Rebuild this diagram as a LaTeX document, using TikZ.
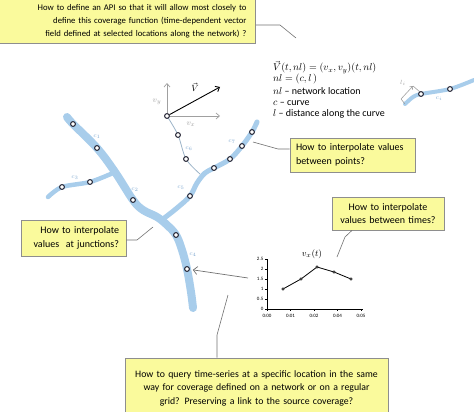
\documentclass[tikz,border=0pt]{standalone}
\usepackage{fontspec}
\setmainfont{Carlito}
\usetikzlibrary{arrows.meta}
\definecolor{boxfill}{HTML}{FAFA9C}
\definecolor{boxline}{HTML}{8E8E8E}
\definecolor{netblue}{HTML}{A8CDEB}
\definecolor{thinnet}{HTML}{9DB4C8}
\definecolor{leadgray}{HTML}{707070}
\definecolor{axgray}{HTML}{A0A0A0}
\definecolor{lblblue}{HTML}{7FA8D0}
\definecolor{mkcol}{HTML}{1A1A2A}
\tikzset{
  qbox/.style={draw=boxline, fill=boxfill, line width=0.8pt, inner sep=0pt,
    font=\fontsize{10}{13.5}\selectfont},
  leader/.style={draw=leadgray, line width=0.6pt},
  netpt/.style={circle, draw=mkcol, fill=white, line width=1pt, inner sep=0pt, minimum size=4.8pt},
  chpt/.style={circle, draw=black, fill=white, line width=0.5pt, inner sep=0pt, minimum size=2.6pt},
  clab/.style={text=lblblue, inner sep=0pt, font=\fontsize{6}{7}\selectfont},
  netline/.style={draw=netblue, line cap=round, line join=round},
  tlab/.style={inner sep=0pt, font=\fontsize{5}{6}\selectfont},
  legend/.style={anchor=north west, inner sep=0pt, align=left, font=\fontsize{10}{11}\selectfont},
  barb/.style={-{Straight Barb[length=3.5pt,width=6pt]}}
}
\begin{document}
\begin{tikzpicture}[x=1pt,y=-1pt]
\useasboundingbox (0,0) rectangle (474,412);

% ---------- network ----------
\draw[netline, line width=8pt] plot[smooth, tension=0.6] coordinates
  {(67,117) (73,124) (97,148) (115,172) (133,200) (143,210) (157,217) (167,225) (176,235) (182,250) (187,269) (191,292) (193,308)};
\draw[netline, line width=4.5pt] plot[smooth] coordinates
  {(113,173) (90,182) (62,187) (48,197)};
\draw[netline, line width=5pt] plot[smooth, tension=0.6] coordinates
  {(163,219) (177,208) (190,196) (197,183) (205,173) (214,168) (230,159) (242,146) (252,132) (257,122)};
\draw[draw=thinnet, line width=0.8pt] plot[smooth] coordinates
  {(167,116) (178,135) (186,159) (200,174)};
\draw[netline, line width=4pt] plot[smooth] coordinates
  {(405,104) (413,97) (421,94) (450,89) (474,80)};

% curve labels
\node[clab] (c1) at (97,137) {$c_1$};
\node[clab] (c3) at (75,178) {$c_3$};
\node[clab] (c2) at (135,190) {$c_2$};
\node[clab] (c5) at (181,188) {$c_5$};
\node[clab] (c6) at (189,149) {$c_6$};
\node[clab] (c7) at (232,142) {$c_7$};
\node[clab] (c4) at (193,255) {$c_4$};
\node[clab] (ci) at (439,99) {$c_i$};
\node[clab, text=axgray] (li) at (403,83) {$l_i$};

% l-distance bracket
\coordinate (la) at (405,104);
\coordinate (lb) at (401,99);
\coordinate (lc) at (413,86);
\coordinate (ld) at (420,92);
\draw[axgray, line width=0.6pt] (la) -- (lb);
\draw[axgray, line width=0.6pt, -{Straight Barb[length=2.5pt,width=4pt]}] (lb) -- (lc);
\draw[axgray, line width=0.6pt] (lc) -- (ld);

% network points
\node[netpt] (vo) at (167,116) {};
\node[netpt] (p1) at (73,124) {};
\node[netpt] (p2) at (97,148) {};
\node[netpt] (p3) at (133,200) {};
\node[netpt] (p4) at (176,235) {};
\node[netpt] (p5) at (187,269) {};
\node[netpt] (p6) at (90,182) {};
\node[netpt] (p7) at (62,187) {};
\node[netpt] (p8) at (190,196) {};
\node[netpt] (p9) at (214,168) {};
\node[netpt] (p10) at (230,159) {};
\node[netpt] (p11) at (242,146) {};
\node[netpt] (p12) at (252,132) {};
\node[netpt] (p13) at (178,135) {};
\node[netpt] (p14) at (186,159) {};
\node[netpt] (p15) at (421,94) {};
\node[netpt] (p16) at (450,89) {};

% vector
\coordinate (vyend) at (167,83);
\coordinate (vxend) at (220,116);
\coordinate (vend) at (220,87);
\draw[axgray, line width=0.7pt, barb] (vo) -- (vyend);
\draw[axgray, line width=0.7pt, barb] (vo) -- (vxend);
\draw[black, line width=0.9pt, barb] (vo) -- (vend);
\node[text=axgray, inner sep=0pt, font=\fontsize{8.5}{9}\selectfont] (vy) at (157,102) {$v_y$};
\node[text=axgray, inner sep=0pt, font=\fontsize{8.5}{9}\selectfont] (vx) at (191,124) {$v_x$};
\node[inner sep=0pt, font=\fontsize{9}{9}\selectfont] (vv) at (195,87) {$\vec{V}$};

% formula and legend
\node[legend] (form) at (273,61) {$\vec{V}(t,nl)=(v_x,v_y)(t,nl)$\\ $nl=(c,l\,)$};
\node[legend] (leg) at (273,87) {$nl$ -- network location\\ $c$ -- curve\\ $l$ -- distance along the curve};

% ---------- chart ----------
\draw[black, line width=0.5pt] (267,259) -- (267,309) -- (363,309);
\foreach \yy/\lab in {259/2.5, 269/2, 279/1.5, 289/1, 299/0.5, 309/0} {
  \draw[black, line width=0.4pt] (265,\yy) -- (267,\yy);
  \node[tlab, anchor=east] at (263.5,\yy) {\lab};
}
\foreach \xx/\lab in {267/0:00, 290.5/0:01, 314/0:02, 337.5/0:04, 361/0:05} {
  \draw[black, line width=0.4pt] (\xx,309) -- (\xx,311);
  \node[tlab] at (\xx,316) {\lab};
}
\draw[black, line width=0.8pt] (283,289) -- (301,279) -- (317,267) -- (334,272) -- (351,279);
\node[chpt] (d1) at (283,289) {};
\node[chpt] (d2) at (301,279) {};
\node[chpt] (d3) at (317,267) {};
\node[chpt] (d4) at (334,272) {};
\node[chpt] (d5) at (351,279) {};
\node[inner sep=0pt, font=\fontsize{9.5}{10}\selectfont] (ctitle) at (312,254) {$v_x(t)$};

% ---------- question boxes ----------
\node[qbox, font=\fontsize{8.7}{13}\selectfont, minimum width=257pt, minimum height=45pt, text width=239pt, align=right] (qapi) at (127,21)
  {How to define an API so that it will allow most closely to\\
   define this coverage function (time-dependent vector\\
   field defined at selected locations along the network) ?};
\node[qbox, minimum width=125pt, minimum height=34pt, text width=113pt, align=left] (qpts) at (352.5,155)
  {How to interpolate values\\ between points?};
\node[qbox, minimum width=112pt, minimum height=33pt, text width=108pt, align=center] (qtimes) at (388,213.5)
  {How to interpolate\\ values between times?};
\node[qbox, minimum width=105pt, minimum height=36pt, text width=91pt, align=right] (qjunc) at (73.5,238)
  {How to interpolate\\ values~ at junctions?};
\node[qbox, font=\fontsize{9.8}{13.5}\selectfont, minimum width=263pt, minimum height=60pt, text width=257pt, align=center] (qquery) at (256.5,388)
  {How to query time-series at a specific location in the same\\
   way for coverage defined on a network or on a regular\\
   grid? Preserving a link to the source coverage?};

% ---------- leaders ----------
\coordinate (l1b) at (280,25);
\coordinate (l1c) at (296,38);
\draw[leader] (qapi.east |- l1b) -- (l1b) -- (l1c);
\coordinate (l2a) at (253,142);
\coordinate (l2b) at (278,149);
\draw[leader] (l2a) -- (l2b) -- (qpts.west |- l2b);
\coordinate (l3b) at (345,237);
\coordinate (l3c) at (337,257);
\draw[leader] ([xshift=-36pt]qtimes.south) -- (l3b) -- (l3c);
\coordinate (l4b) at (137,240);
\coordinate (l4c) at (153,227);
\draw[leader] (qjunc.east |- l4b) -- (l4b) -- (l4c);
\coordinate (l5b) at (217,335);
\coordinate (l5c) at (228,295);
\draw[leader] ([xshift=-39.5pt]qquery.north) -- (l5b) -- (l5c);
\coordinate (arrstart) at (248,278);
\draw[leadgray, line width=0.7pt, -{Straight Barb[length=4pt,width=8pt]}, shorten >=3pt] (arrstart) -- (p5);
\end{tikzpicture}
\end{document}
